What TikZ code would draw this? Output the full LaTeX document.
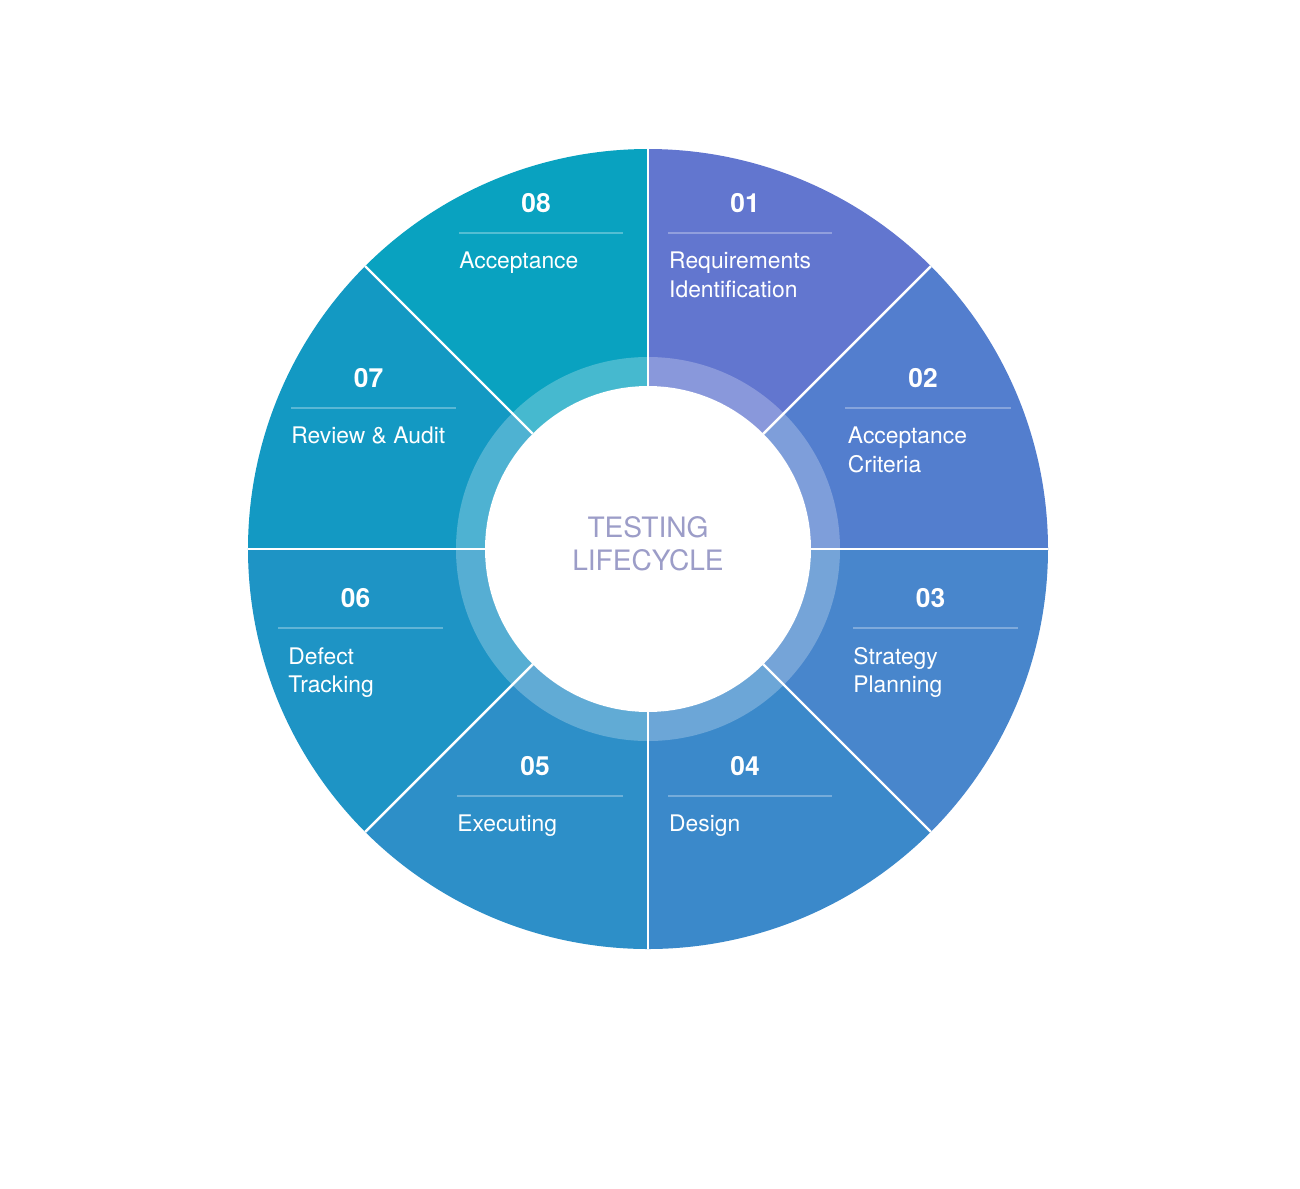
\documentclass[tikz,border=0pt]{standalone}
\usepackage{fontspec}
\setmainfont{TeX Gyre Heros}
\usetikzlibrary{calc, positioning}

\definecolor{SectorOne}{HTML}{6276CF}
\definecolor{SectorTwo}{HTML}{537ECE}
\definecolor{SectorThree}{HTML}{4886CC}
\definecolor{SectorFour}{HTML}{3B89CA}
\definecolor{SectorFive}{HTML}{2D8FC8}
\definecolor{SectorSix}{HTML}{1E94C5}
\definecolor{SectorSeven}{HTML}{1399C3}
\definecolor{SectorEight}{HTML}{09A2C0}
\definecolor{CentreText}{HTML}{9C9DC8}

\tikzset{
    num/.style = {text = white, inner sep = 0pt, font = \fontsize{15}{18}\selectfont\bfseries},
    lbl/.style = {text = white, inner sep = 0pt, align = left, font = \fontsize{13}{16}\selectfont},
    rule/.style = {draw = white, draw opacity = 0.3, line width = 0.6pt},
    divider/.style = {draw = white, line width = 1.4pt},
}

\begin{document}
\begin{tikzpicture}[x = 0.02cm, y = 0.02cm]

\useasboundingbox (-648, -639) rectangle (652, 549);

\coordinate (O) at (0, 0);

% sectors
\fill[SectorOne]   (O) -- (90:400)   arc[start angle = 90,   end angle = 45,   radius = 400] -- cycle;
\fill[SectorTwo]   (O) -- (45:400)   arc[start angle = 45,   end angle = 0,    radius = 400] -- cycle;
\fill[SectorThree] (O) -- (0:400)    arc[start angle = 0,    end angle = -45,  radius = 400] -- cycle;
\fill[SectorFour]  (O) -- (-45:400)  arc[start angle = -45,  end angle = -90,  radius = 400] -- cycle;
\fill[SectorFive]  (O) -- (-90:400)  arc[start angle = -90,  end angle = -135, radius = 400] -- cycle;
\fill[SectorSix]   (O) -- (-135:400) arc[start angle = -135, end angle = -180, radius = 400] -- cycle;
\fill[SectorSeven] (O) -- (180:400)  arc[start angle = 180,  end angle = 135,  radius = 400] -- cycle;
\fill[SectorEight] (O) -- (135:400)  arc[start angle = 135,  end angle = 90,   radius = 400] -- cycle;

% ring and hub
\fill[white, opacity = 0.25, even odd rule] (O) circle[radius = 192] (O) circle[radius = 163];
\fill[white] (O) circle[radius = 163];

\foreach \a in {0, 45, ..., 315}
    \draw[divider] (\a:163) -- (\a:400);

\node[text = CentreText, align = center, font = \fontsize{16}{18.8}\selectfont] (hub) at (0, 5) {TESTING\\LIFECYCLE};

% 01
\coordinate (r01) at (20, 316);
\draw[rule] (r01) -- ++(164, 0) coordinate (r01e);
\node[num] (n01) at ($(r01)!0.47!(r01e) + (0, 30)$) {01};
\node[lbl, below right = 10.8pt and 0.5pt of r01] (l01) {Requirements\\Identification};

% 02
\coordinate (r02) at (197, 141);
\draw[rule] (r02) -- ++(166, 0) coordinate (r02e);
\node[num] (n02) at ($(r02)!0.47!(r02e) + (0, 30)$) {02};
\node[lbl, below right = 10.8pt and 1.5pt of r02] (l02) {Acceptance\\Criteria};

% 03
\coordinate (r03) at (205, -79);
\draw[rule] (r03) -- ++(165, 0) coordinate (r03e);
\node[num] (n03) at ($(r03)!0.47!(r03e) + (0, 30)$) {03};
\node[lbl, below right = 10.8pt and 0pt of r03] (l03) {Strategy\\Planning};

% 04
\coordinate (r04) at (20, -247);
\draw[rule] (r04) -- ++(164, 0) coordinate (r04e);
\node[num] (n04) at ($(r04)!0.47!(r04e) + (0, 30)$) {04};
\node[lbl, below right = 10.8pt and 0.5pt of r04] (l04) {Design};

% 05
\coordinate (r05) at (-191, -247);
\draw[rule] (r05) -- ++(166, 0) coordinate (r05e);
\node[num] (n05) at ($(r05)!0.47!(r05e) + (0, 30)$) {05};
\node[lbl, below right = 10.8pt and 0pt of r05] (l05) {Executing};

% 06
\coordinate (r06) at (-370, -79);
\draw[rule] (r06) -- ++(165, 0) coordinate (r06e);
\node[num] (n06) at ($(r06)!0.47!(r06e) + (0, 30)$) {06};
\node[lbl, below right = 10.8pt and 5.7pt of r06] (l06) {Defect\\Tracking};

% 07
\coordinate (r07) at (-357, 141);
\draw[rule] (r07) -- ++(165, 0) coordinate (r07e);
\node[num] (n07) at ($(r07)!0.47!(r07e) + (0, 30)$) {07};
\node[lbl, below right = 10.8pt and 0pt of r07] (l07) {Review \& Audit};

% 08
\coordinate (r08) at (-189, 316);
\draw[rule] (r08) -- ++(164, 0) coordinate (r08e);
\node[num] (n08) at ($(r08)!0.47!(r08e) + (0, 30)$) {08};
\node[lbl, below right = 10.8pt and 0pt of r08] (l08) {Acceptance};

\end{tikzpicture}
\end{document}
